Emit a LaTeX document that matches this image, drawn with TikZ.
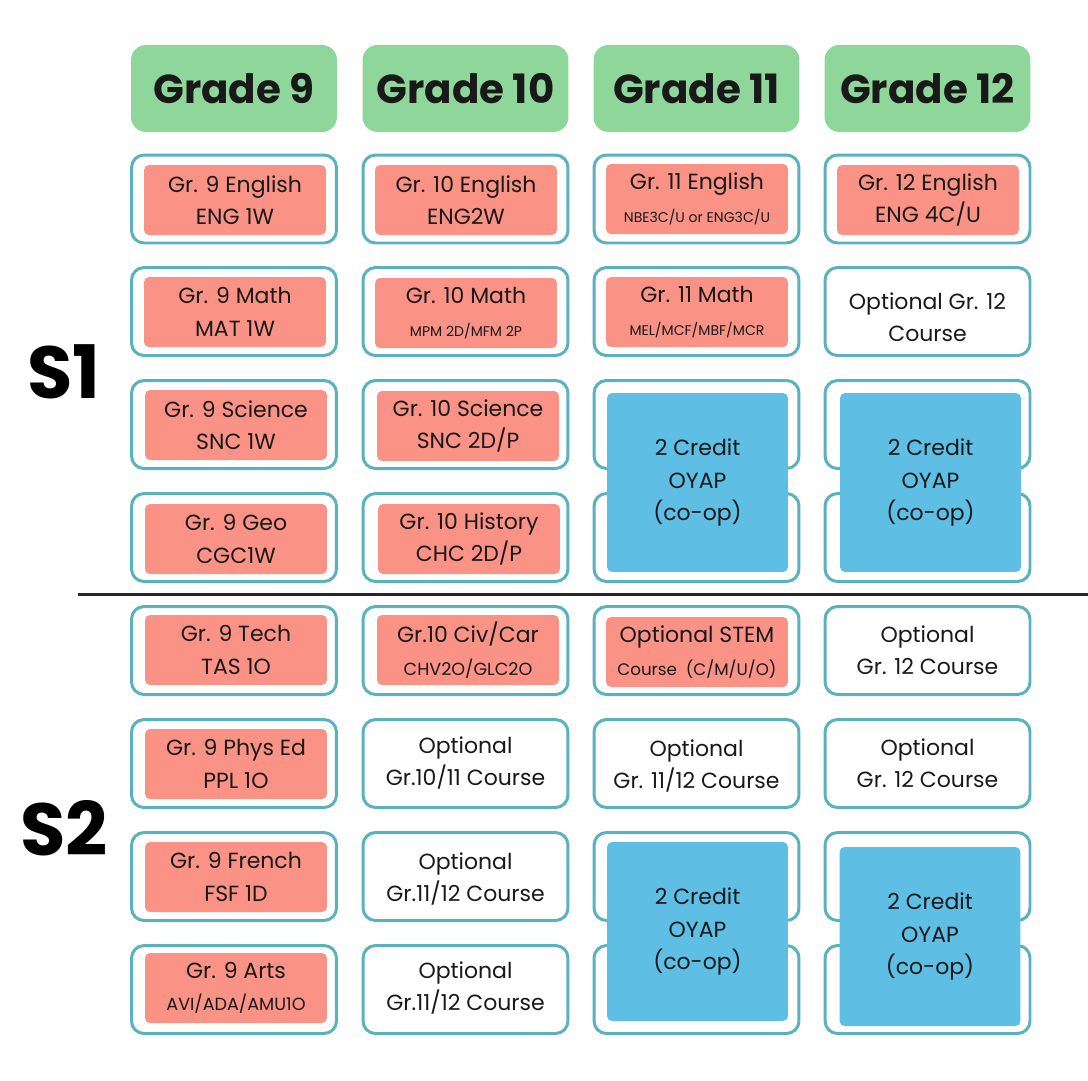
\documentclass[tikz,border=0pt]{standalone}
\usepackage{fontspec}
\setmainfont{Poppins}
\newcommand\smtxt{\fontsize{8}{10}\selectfont}
\begin{document}
\begin{tikzpicture}[x=0.02cm,y=-0.02cm,
 txt/.style={font=\fontsize{12.5}{18.5}\selectfont, text=black!90, align=center},
 outer/.style={draw={rgb,255:red,90;green,178;blue,190}, line width=1.7pt, rounded corners=0.25cm, fill=white, minimum width=4.1cm, minimum height=1.76cm},
 inner/.style={txt, fill={rgb,255:red,250;green,146;blue,134}, rounded corners=0.1cm, minimum width=3.64cm, minimum height=1.4cm, inner sep=1pt},
 plain/.style={txt},
 blue/.style={txt, fill={rgb,255:red,94;green,190;blue,228}, rounded corners=0.1cm, minimum width=3.62cm, minimum height=3.58cm},
 head/.style={fill={rgb,255:red,143;green,214;blue,155}, rounded corners=0.3cm, minimum width=4.12cm, minimum height=1.74cm, font=\fontsize{23}{26}\bfseries\selectfont, text=black!90},
 big/.style={font=\fontsize{42}{46}\bfseries\selectfont, text=black}]
\useasboundingbox (0,0) rectangle (1088,1080);
\fill[white] (0,0) rectangle (1088,1080);
% headers
\node[head] (h1) at (234,88.5) {Grade 9};
\node[head] (h2) at (465.5,88.5) {Grade 10};
\node[head] (h3) at (696.5,88.5) {Grade 11};
\node[head] (h4) at (927.5,88.5) {Grade 12};
% outer boxes
\foreach \c/\x in {1/234,2/465.5,3/696.5,4/927.5}
 \foreach \r/\y in {1/199,2/311.5,3/424.5,4/537.5,5/650.5,6/763.5,7/876.5,8/989.5}
  \node[outer] (o\c\r) at (\x,\y) {};
\node[big] (s1) at (64,372) {S1};
\node[big] (s2) at (64,828) {S2};
\coordinate (la) at (78,594);
\coordinate (lb) at (1088,594);
\draw[line width=1.7pt, black!85] (la) -- (lb);
% grade 9
\node[inner] (a1) at (235,200) {Gr. 9 English\\ENG 1W};
\node[inner] (a2) at (235,312) {Gr. 9 Math\\MAT 1W};
\node[inner] (a3) at (236,425) {Gr. 9 Science\\SNC 1W};
\node[inner] (a4) at (236,539) {Gr. 9 Geo\\CGC1W};
\node[inner] (a5) at (236,650) {Gr. 9 Tech\\TAS 1O};
\node[inner] (a6) at (236,764) {Gr. 9 Phys Ed\\PPL 1O};
\node[inner] (a7) at (236,877) {Gr. 9 French\\FSF 1D};
\node[inner] (a8) at (236,988) {Gr. 9 Arts\\{\fontsize{10}{12}\selectfont AVI/ADA/AMU1O}};
% grade 10
\node[inner] (b1) at (466,200) {Gr. 10 English\\ENG2W};
\node[inner] (b2) at (466,313) {Gr. 10 Math\\{\smtxt MPM 2D/MFM 2P}};
\node[inner] (b3) at (468,426) {Gr. 10 Science\\SNC 2D/P};
\node[inner] (b4) at (469,539) {Gr. 10 History\\CHC 2D/P};
\node[inner] (b5) at (468,650) {Gr.10 Civ/Car\\{\fontsize{10}{12}\selectfont CHV2O/GLC2O}};
\node[plain] (b6) at (465.5,763) {Optional\\Gr.10/11 Course};
\node[plain] (b7) at (465.5,879) {Optional\\Gr.11/12 Course};
\node[plain] (b8) at (465.5,988) {Optional\\Gr.11/12 Course};
% grade 11
\node[inner] (c1) at (697,199) {Gr. 11 English\\{\smtxt NBE3C/U or ENG3C/U}};
\node[inner] (c2) at (697,312) {Gr. 11 Math\\{\smtxt MEL/MCF/MBF/MCR}};
\node[blue] (c3) at (697.5,482.5) {2 Credit\\OYAP\\(co-op)};
\node[inner] (c5) at (697,652) {Optional STEM\\{\fontsize{9.5}{12}\selectfont Course~~(C/M/U/O)}};
\node[plain] (c6) at (696.5,766) {Optional\\Gr. 11/12 Course};
\node[blue] (c7) at (697.5,931.5) {2 Credit\\OYAP\\(co-op)};
% grade 12
\node[inner] (d1) at (928,200) {Gr. 12 English\\ENG 4C/U};
\node[plain] (d2) at (927.5,317) {Optional Gr. 12\\Course};
\node[blue] (d3) at (930.5,482.5) {2 Credit\\OYAP\\(co-op)};
\node[plain] (d5) at (927.5,650) {Optional\\Gr. 12 Course};
\node[plain] (d6) at (927.5,763) {Optional\\Gr. 12 Course};
\node[blue] (d7) at (930,936.5) {2 Credit\\OYAP\\(co-op)};
\end{tikzpicture}
\end{document}
